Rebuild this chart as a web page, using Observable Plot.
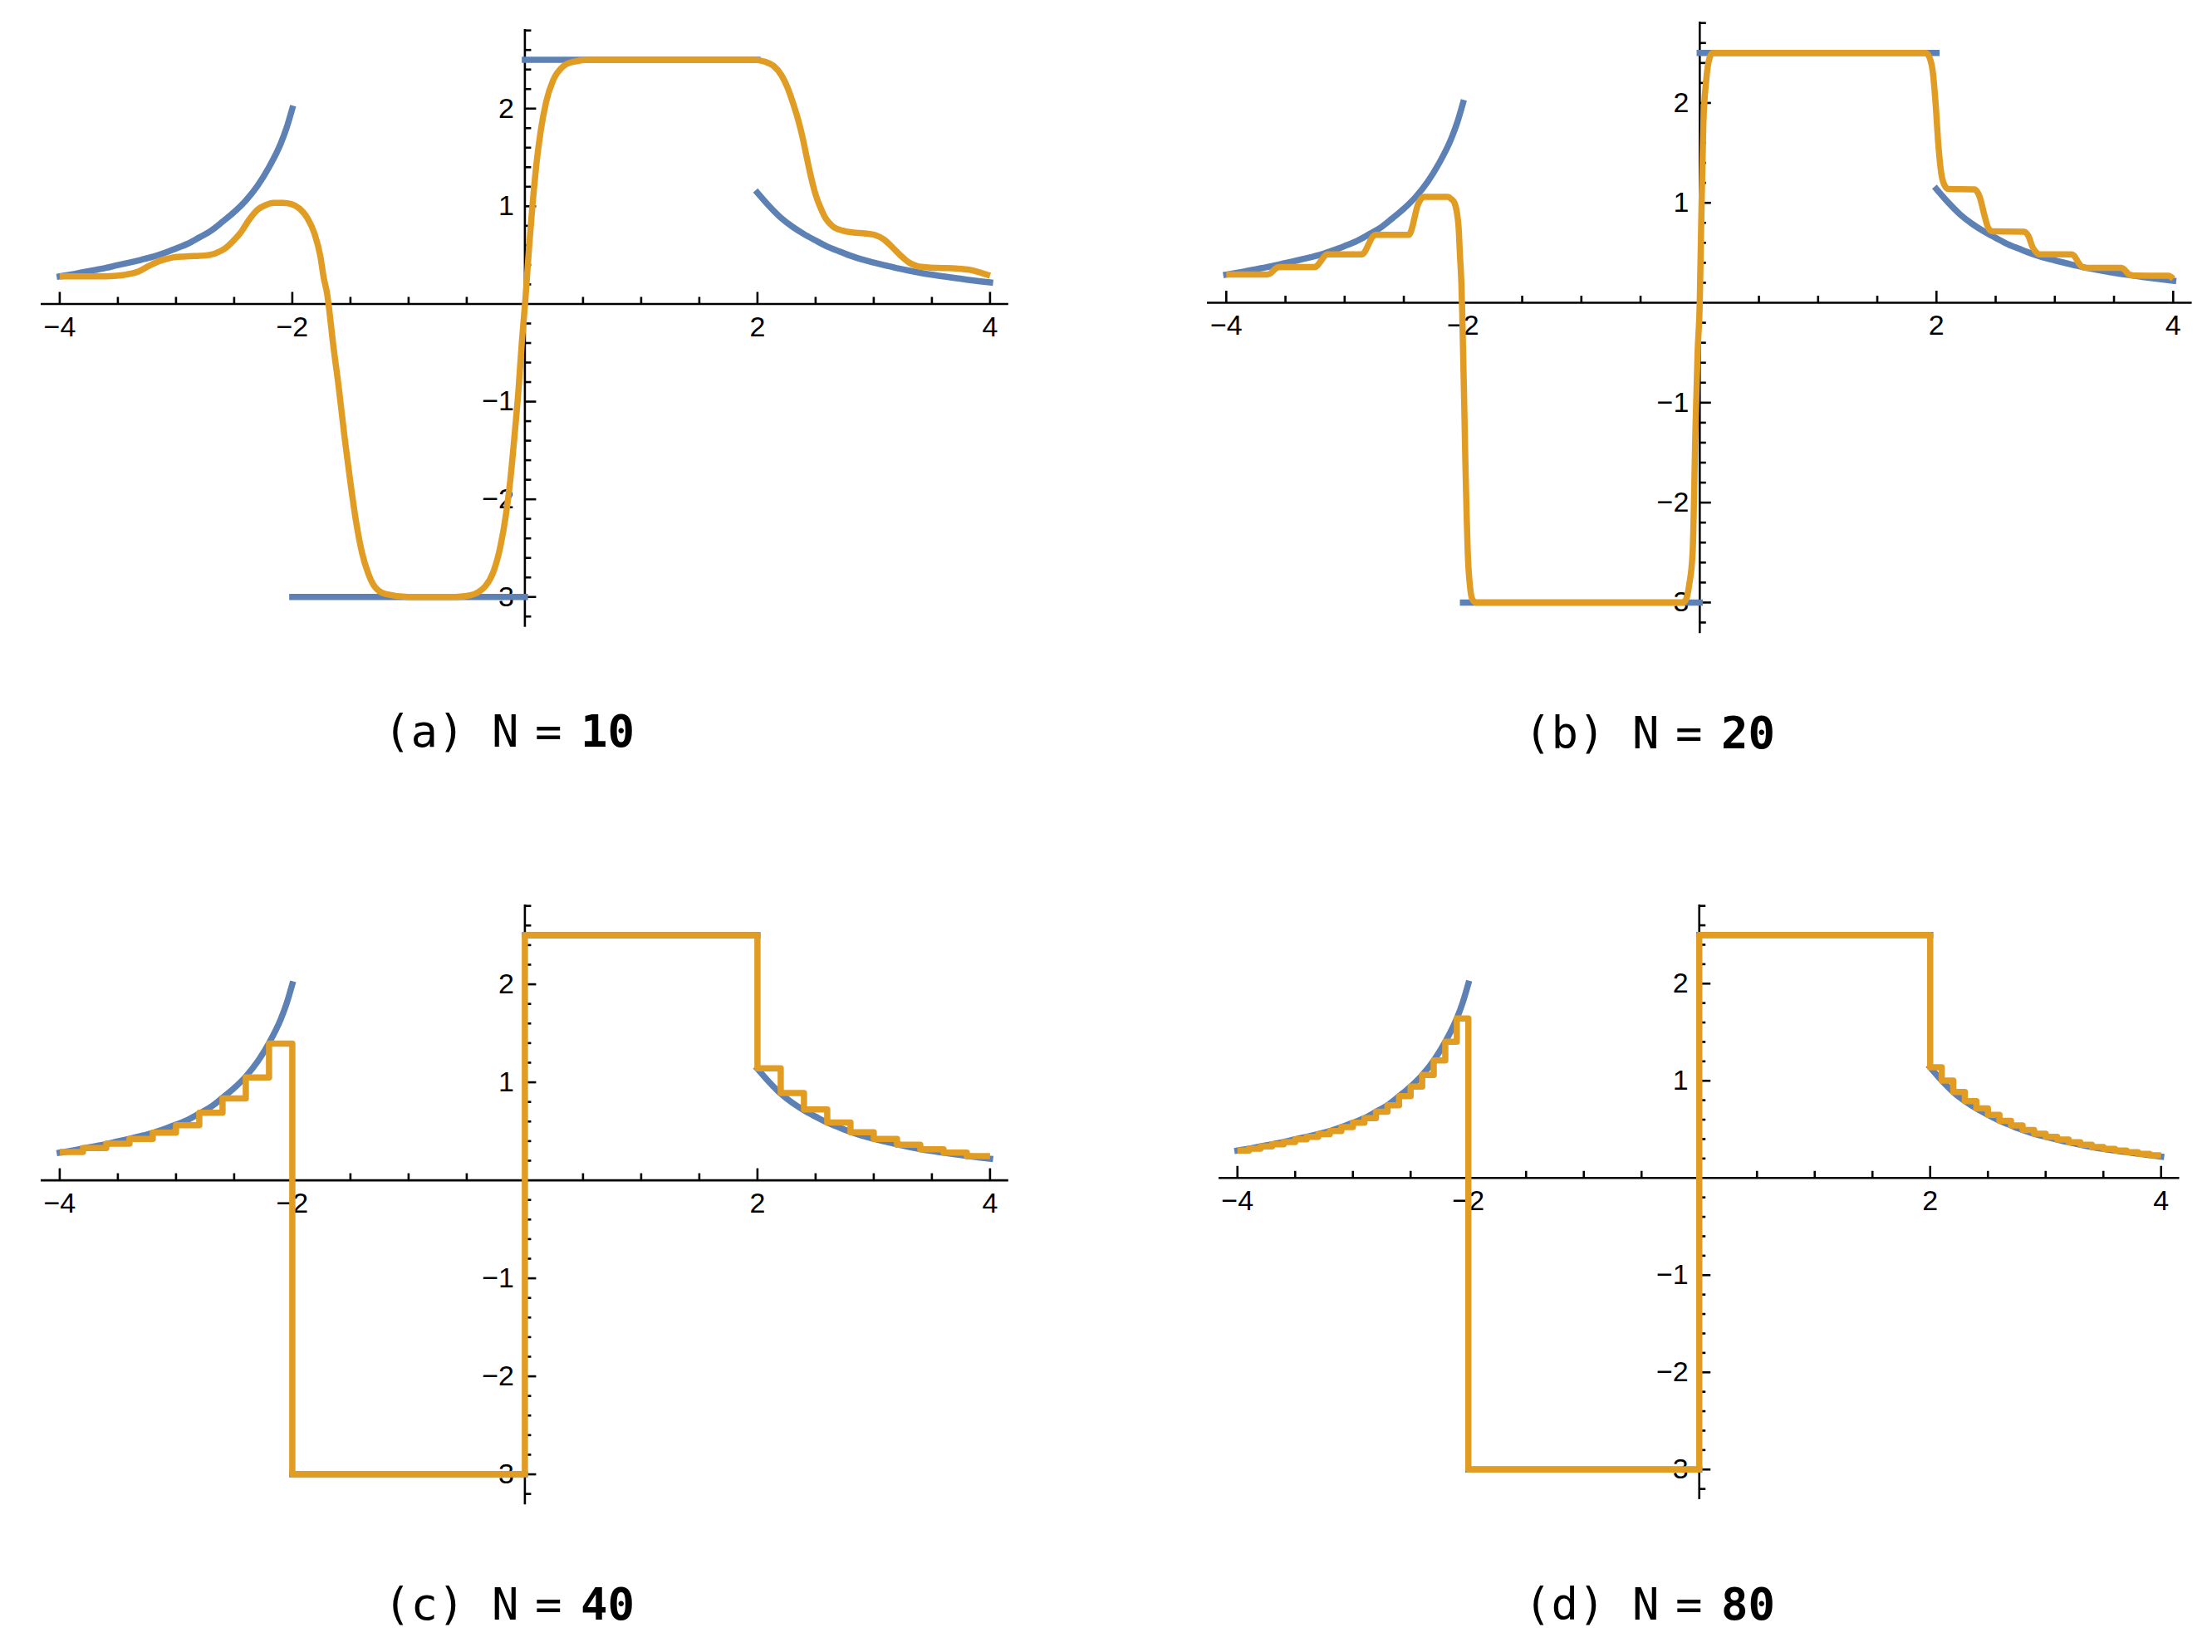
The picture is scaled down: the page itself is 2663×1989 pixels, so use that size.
<!DOCTYPE html>
<html>
<head>
<meta charset="utf-8">
<script src="https://cdn.jsdelivr.net/npm/d3@7"></script>
<script src="https://cdn.jsdelivr.net/npm/@observablehq/plot@0.6"></script>
<style>
html, body { margin: 0; padding: 0; background: #fff; }
#fig { position: relative; width: 2663px; height: 1989px; overflow: hidden; background: #fff; }
</style>
</head>
<body>
<div id="fig"></div>
<script>
// ---------- data ----------
// reference function (blue)
const blueLeftX  = [-4.0,-3.9,-3.8,-3.7,-3.6,-3.5,-3.4,-3.3,-3.2,-3.1,-3.0,-2.9,-2.8,-2.7,-2.6,-2.5,-2.4,-2.3,-2.2,-2.1,-2.05,-2.0];
const blueLeftY  = [0.282,0.302,0.325,0.347,0.37,0.398,0.424,0.452,0.483,0.523,0.568,0.616,0.681,0.749,0.842,0.941,1.059,1.209,1.401,1.641,1.80,2.0];
const blueMidX   = [-2, 0];
const blueMidY   = [-3, -3];
const blueTopX   = [0, 2];
const blueTopY   = [2.5, 2.5];
const blueRightX = [2.0,2.1,2.2,2.3,2.4,2.5,2.6,2.7,2.8,2.9,3.0,3.1,3.2,3.3,3.4,3.5,3.6,3.7,3.8,3.9,4.0];
const blueRightY = [1.138,1.003,0.884,0.791,0.715,0.65,0.588,0.54,0.494,0.455,0.424,0.395,0.367,0.342,0.319,0.299,0.282,0.266,0.249,0.234,0.22];

// approximation N = 10 (orange)
const orangeAX = [-4.0,-3.85,-3.61,-3.51,-3.42,-3.32,-3.23,-3.13,-3.04,-2.94,-2.85,-2.75,-2.66,-2.58,-2.51,-2.44,-2.37,-2.30,-2.23,-2.16,-2.08,-2.01,-1.94,-1.87,-1.81,-1.76,-1.73,-1.70,-1.68,-1.65,-1.60,-1.55,-1.50,-1.45,-1.40,-1.35,-1.30,-1.20,-1.00,-0.60,-0.50,-0.40,-0.34,-0.27,-0.21,-0.162,-0.126,-0.09,-0.055,-0.026,0.005,0.036,0.064,0.10,0.136,0.183,0.243,0.326,0.42,0.56,1.78,1.97,2.064,2.136,2.207,2.255,2.302,2.35,2.386,2.421,2.457,2.493,2.54,2.588,2.648,2.731,2.826,2.921,3.017,3.088,3.16,3.231,3.302,3.374,3.469,3.588,3.707,3.826,3.921,4.0];
const orangeAY = [0.283,0.283,0.283,0.289,0.303,0.334,0.391,0.445,0.473,0.485,0.49,0.496,0.519,0.567,0.643,0.737,0.865,0.964,1.012,1.035,1.035,1.023,0.978,0.879,0.723,0.496,0.269,0.10,-0.085,-0.40,-0.86,-1.37,-1.83,-2.24,-2.55,-2.75,-2.88,-2.97,-3.0,-3.0,-2.99,-2.95,-2.89,-2.74,-2.48,-2.15,-1.81,-1.36,-0.88,-0.39,0.056,0.58,0.99,1.44,1.77,2.07,2.29,2.43,2.48,2.5,2.5,2.5,2.48,2.44,2.34,2.225,2.07,1.885,1.715,1.516,1.318,1.148,0.992,0.873,0.794,0.751,0.731,0.723,0.703,0.66,0.581,0.496,0.425,0.388,0.374,0.368,0.363,0.349,0.32,0.29];

// approximation N = 20 (orange)
const orangeBX = [-4.0,-3.65,-3.62,-3.60,-3.575,-3.55,-3.25,-3.225,-3.20,-3.175,-3.15,-2.855,-2.83,-2.80,-2.77,-2.735,-2.458,-2.435,-2.41,-2.385,-2.36,-2.33,-2.13,-2.10,-2.072,-2.05,-2.037,-2.026,-2.014,-2.007,-1.99,-1.98,-1.97,-1.96,-1.94,-1.92,-1.89,-0.14,-0.11,-0.09,-0.06,-0.036,-0.018,0.0,0.012,0.03,0.054,0.083,0.11,1.91,1.946,1.97,1.993,2.016,2.04,2.063,2.10,2.32,2.345,2.368,2.403,2.438,2.473,2.742,2.778,2.813,2.848,2.87,3.14,3.164,3.19,3.22,3.26,3.56,3.59,3.62,3.66,3.96,4.0];
const orangeBY = [0.283,0.283,0.30,0.325,0.348,0.357,0.357,0.38,0.42,0.46,0.485,0.485,0.51,0.58,0.65,0.68,0.68,0.73,0.85,0.97,1.03,1.06,1.06,1.04,1.0,0.89,0.75,0.48,0.2,-0.08,-1.0,-1.6,-2.1,-2.5,-2.85,-2.97,-3.0,-3.0,-2.95,-2.83,-2.5,-1.26,-0.5,0.0,0.76,1.77,2.22,2.45,2.5,2.5,2.44,2.3,1.99,1.58,1.30,1.19,1.14,1.136,1.11,1.05,0.886,0.748,0.715,0.712,0.665,0.554,0.499,0.485,0.485,0.47,0.42,0.37,0.35,0.35,0.33,0.29,0.272,0.27,0.24];

// approximation N = 40 (orange, step starts and levels)
const orangeCX = [-4.0,-3.8,-3.6,-3.4,-3.2,-3.0,-2.8,-2.6,-2.4,-2.2,-2.0,0.0,2.0,2.2,2.4,2.6,2.8,3.0,3.2,3.4,3.6,3.8,4.0];
const orangeCY = [0.289,0.328,0.373,0.423,0.485,0.563,0.69,0.835,1.05,1.395,-3.0,2.5,1.143,0.89,0.723,0.59,0.49,0.423,0.364,0.317,0.283,0.246,0.246];

// approximation N = 80 (orange, step starts and levels)
const orangeDX = [-4.0,-3.9,-3.8,-3.7,-3.6,-3.5,-3.4,-3.3,-3.2,-3.1,-3.0,-2.9,-2.8,-2.7,-2.6,-2.5,-2.4,-2.3,-2.2,-2.1,-2.0,0.0,2.0,2.1,2.2,2.3,2.4,2.5,2.6,2.7,2.8,2.9,3.0,3.1,3.2,3.3,3.4,3.5,3.6,3.7,3.8,3.9,4.0];
const orangeDY = [0.282,0.302,0.325,0.347,0.37,0.398,0.424,0.452,0.483,0.523,0.568,0.616,0.681,0.749,0.842,0.941,1.059,1.209,1.401,1.641,-3.0,2.5,1.138,1.003,0.884,0.791,0.715,0.65,0.588,0.54,0.494,0.455,0.424,0.395,0.367,0.342,0.319,0.299,0.282,0.266,0.249,0.234,0.234];

// ticks and labels
const xMajorTicks = [-4, -2, 2, 4];
const xMajorLabels = ["\u22124", "\u22122", "2", "4"];
const xMinorTicks = [-3.5, -3, -2.5, -1.5, -1, -0.5, 0.5, 1, 1.5, 2.5, 3, 3.5];
const yMajorTicks = [-3, -2, -1, 1, 2];
const yMajorLabels = ["\u22123", "\u22122", "\u22121", "1", "2"];
const yMinorTicks = [-3.2,-2.8,-2.6,-2.4,-2.2,-1.8,-1.6,-1.4,-1.2,-0.8,-0.6,-0.4,-0.2,0.2,0.4,0.6,0.8,1.2,1.4,1.6,1.8,2.2,2.4,2.6,2.8];

const panelLetters = ["(a)", "(b)", "(c)", "(d)"];
const panelN = ["10", "20", "40", "80"];

// ---------- layout & style ----------
const BLUE = "#5E81B5", ORANGE = "#E19C24";
const XD = [-4.16, 4.16], YD = [-3.31, 2.81];
const M = 30;
const layout = [
  {x0: 631.3, y0: 365,    xs: 140,   ys: 117.6, lx: 617,  ly: 899},
  {x0: 2046,  y0: 364,    xs: 142.5, ys: 120.3, lx: 1990, ly: 901},
  {x0: 631.2, y0: 1421,   xs: 140,   ys: 118,   lx: 617,  ly: 1950},
  {x0: 2045,  y0: 1417.7, xs: 139,   ys: 117,   lx: 1990, ly: 1950}
];
const orangeSets = [
  {x: orangeAX, y: orangeAY, curve: "monotone-x"},
  {x: orangeBX, y: orangeBY, curve: "monotone-x"},
  {x: orangeCX, y: orangeCY, curve: "step-after"},
  {x: orangeDX, y: orangeDY, curve: "step-after"}
];

function rows(xs, ys, seg) { return xs.map((x, i) => ({x, y: ys[i], seg})); }
const blueRows = [
  ...rows(blueLeftX, blueLeftY, "L"),
  ...rows(blueMidX, blueMidY, "M"),
  ...rows(blueTopX, blueTopY, "T"),
  ...rows(blueRightX, blueRightY, "R")
];

const fig = document.getElementById("fig");

layout.forEach((p, k) => {
  const w = 2 * M + (XD[1] - XD[0]) * p.xs;
  const h = 2 * M + (YD[1] - YD[0]) * p.ys;
  const o = orangeSets[k];
  const orangeRows = rows(o.x, o.y, "O");
  const tickStyle = {stroke: "#000", strokeWidth: 2.6};
  const chart = Plot.plot({
    width: w, height: h,
    marginLeft: M, marginRight: M, marginTop: M, marginBottom: M,
    x: {domain: XD, axis: null},
    y: {domain: YD, axis: null},
    style: {fontFamily: "Liberation Sans", background: "none", overflow: "visible"},
    marks: [
      Plot.ruleY([0], {stroke: "#000", strokeWidth: 2.6}),
      Plot.ruleX([0], {stroke: "#000", strokeWidth: 2.6}),
      Plot.ruleX(xMajorTicks, {x: d => d, y1: () => 0, y2: () => 14 / p.ys, ...tickStyle}),
      Plot.ruleX(xMinorTicks, {x: d => d, y1: () => 0, y2: () => 8 / p.ys, ...tickStyle}),
      Plot.ruleY(yMajorTicks, {y: d => d, x1: () => 0, x2: () => 14 / p.xs, ...tickStyle}),
      Plot.ruleY(yMinorTicks, {y: d => d, x1: () => 0, x2: () => 8 / p.xs, ...tickStyle}),
      Plot.text(xMajorTicks, {x: d => d, y: () => 0, text: (d, i) => xMajorLabels[i], dy: 28, fontSize: 34, fill: "#000", textAnchor: "middle"}),
      Plot.text(yMajorTicks, {x: () => 0, y: d => d, text: (d, i) => yMajorLabels[i], dx: -13, fontSize: 34, fill: "#000", textAnchor: "end"}),
      Plot.line(blueRows, {x: "x", y: "y", z: "seg", stroke: BLUE, strokeWidth: 7.5, curve: "monotone-x", strokeLinecap: "square"}),
      Plot.line(orangeRows, {x: "x", y: "y", stroke: ORANGE, strokeWidth: 7.5, curve: o.curve, strokeLinecap: "butt", strokeLinejoin: "round"})
    ]
  });
  chart.style.position = "absolute";
  chart.style.left = (p.x0 + XD[0] * p.xs - M) + "px";
  chart.style.top = (p.y0 - YD[1] * p.ys - M) + "px";
  chart.style.maxWidth = "none";
  chart.style.overflow = "visible";
  chart.style.background = "none";
  fig.appendChild(chart);
});

// panel captions
const cap = d3.select(fig).append("svg")
  .attr("width", 2663).attr("height", 1989)
  .style("position", "absolute").style("left", "0px").style("top", "0px")
  .style("pointer-events", "none");
layout.forEach((p, k) => {
  const t = cap.append("text")
    .attr("y", p.ly)
    .attr("font-family", "DejaVu Sans Mono")
    .attr("font-size", 54)
    .attr("fill", "#000");
  t.append("tspan").attr("x", p.lx - 155).attr("font-weight", 300).text(panelLetters[k]);
  t.append("tspan").attr("x", p.lx - 25).text("N");
  t.append("tspan").attr("x", p.lx + 27).text("=");
  t.append("tspan").attr("x", p.lx + 82).attr("font-weight", "bold").text(panelN[k]);
});
</script>
</body>
</html>
